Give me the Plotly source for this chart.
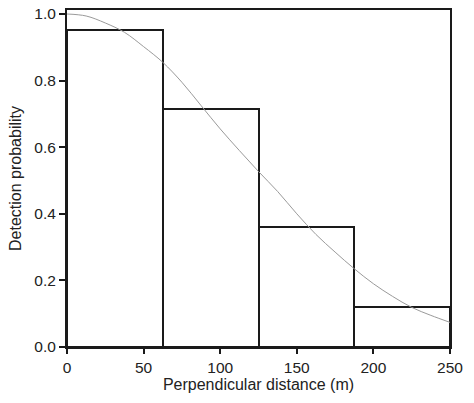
import plotly.graph_objects as go

# histogram bins (left edges) and observed detection proportions
bin_left = [0, 62.5, 125, 187.5]
bin_width = 62.5
bin_height = [0.952, 0.714, 0.359, 0.119]

# fitted detection function
curve_x = [0, 12.5, 25, 37.5, 50, 62.5, 75, 87.5, 100, 112.5, 125,
           137.5, 150, 162.5, 175, 187.5, 200, 212.5, 225, 237.5, 250]
curve_y = [1.000, 0.994, 0.973, 0.945, 0.902, 0.855, 0.795, 0.725, 0.655, 0.590, 0.527,
           0.467, 0.400, 0.338, 0.285, 0.235, 0.190, 0.152, 0.119, 0.095, 0.074]

x_ticks = [0, 50, 100, 150, 200, 250]
y_ticks = [0.0, 0.2, 0.4, 0.6, 0.8, 1.0]

font = dict(family='Liberation Sans, Arial, sans-serif', size=15.5, color='#222')
title_font = dict(family='Liberation Sans, Arial, sans-serif', size=16, color='#222')

fig = go.Figure()

# bars drawn as outlined white boxes
fig.add_trace(go.Bar(x=[b + bin_width / 2 for b in bin_left], y=bin_height,
                     width=bin_width, base=0,
                     marker=dict(color='white', line=dict(color='#1a1a1a', width=2)),
                     hoverinfo='skip'))

# smooth curve on top
fig.add_trace(go.Scatter(x=curve_x, y=curve_y, mode='lines',
                         line=dict(color='#9a9a9a', width=1, shape='spline')))

fig.update_layout(width=474, height=403,
                  margin=dict(l=67, r=24, t=10, b=56),
                  plot_bgcolor='white', paper_bgcolor='white',
                  showlegend=False, font=font, bargap=0)

fig.update_xaxes(range=[0, 250], tickvals=x_ticks, ticks='outside', ticklen=5,
                 tickwidth=1.5, tickcolor='#1a1a1a', showline=True, linewidth=2,
                 linecolor='#1a1a1a', mirror=True, showgrid=False, zeroline=False,
                 automargin=False, ticklabeloverflow='allow',
                 title=dict(text='Perpendicular distance (m)', standoff=4, font=title_font))

fig.update_yaxes(range=[0, 1.012], tickvals=y_ticks, tickformat='.1f',
                 ticks='outside', ticklen=6, tickwidth=1.5, tickcolor='#1a1a1a',
                 showline=True, linewidth=2, linecolor='#1a1a1a', mirror=True,
                 showgrid=False, zeroline=False, automargin=False,
                 ticklabeloverflow='allow',
                 title=dict(text='Detection probability', standoff=9, font=title_font))

# drop the browser's default body margin so the figure fills the window
fig.write_html("out.html", config={'displayModeBar': False},
               post_script="document.body.style.margin = '0';")
